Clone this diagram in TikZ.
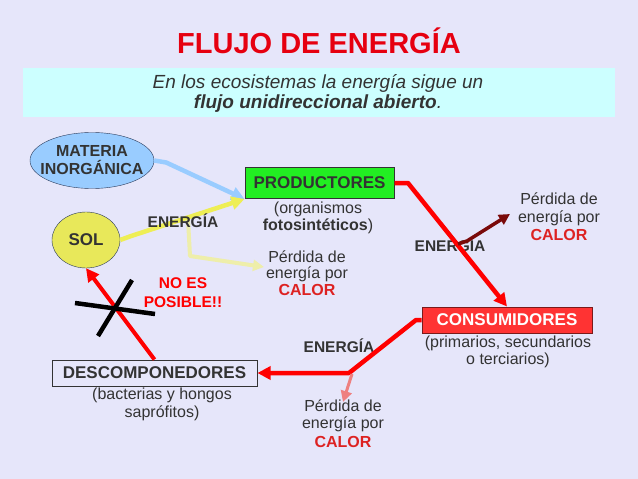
\documentclass[tikz,border=0pt]{standalone}
\usepackage{fontspec}
\setmainfont{Liberation Sans}
\usetikzlibrary{arrows.meta,shapes.geometric}
\definecolor{bg}{HTML}{E6E6FA}
\definecolor{band}{HTML}{CCFFFF}
\definecolor{titlered}{HTML}{E60010}
\definecolor{txt}{HTML}{333333}
\definecolor{calor}{HTML}{DD2222}
\definecolor{matfill}{HTML}{99CCFF}
\definecolor{matline}{HTML}{2A3A5A}
\definecolor{solfill}{HTML}{E8E85A}
\definecolor{prodfill}{HTML}{22EE22}
\definecolor{consfill}{HTML}{FF3333}
\definecolor{consline}{HTML}{7A1A1A}
\definecolor{arrblue}{HTML}{99CCFF}
\definecolor{arryellow}{HTML}{EEEE55}
\definecolor{arrpale}{HTML}{EEEEAA}
\definecolor{arrred}{HTML}{FF0000}
\definecolor{arrmaroon}{HTML}{7A0A0A}
\definecolor{arrpink}{HTML}{EE8080}
\tikzset{
  bigtxt/.style={font=\bfseries\fontsize{17}{20}\selectfont, text=txt},
  midtxt/.style={font=\bfseries\fontsize{15.5}{18}\selectfont, text=txt},
  plaintxt/.style={font=\fontsize{16}{18}\selectfont, text=txt, anchor=base},
  calortxt/.style={font=\bfseries\fontsize{16}{18}\selectfont, text=calor, anchor=base},
  energia/.style={midtxt, anchor=base},
  flow/.style={line width=4.5pt, line join=round, -{Triangle[length=13pt,width=13pt]}},
  thinflow/.style={line width=3.5pt, line join=round, -{Triangle[length=11pt,width=11pt]}},
}
\begin{document}
\begin{tikzpicture}[x=1pt,y=-1pt]
\useasboundingbox[fill=bg] (0,0) rectangle (638,479);
\fill[band] (23,68) rectangle (615,117);

% title and subtitle
\node[font=\bfseries\fontsize{29}{30}\selectfont, text=titlered, anchor=base] (title) at (319,53) {FLUJO DE ENERGÍA};
\node[font=\itshape\fontsize{19}{20}\selectfont, text=txt, anchor=base] (sub1) at (318,88) {En los ecosistemas la energía sigue un};
\node[font=\itshape\fontsize{19}{20}\selectfont, text=txt, anchor=base] (sub2) at (318,108) {\textbf{flujo unidireccional abierto}.};

% main nodes
\node[ellipse, draw=matline, fill=matfill, minimum width=124pt, minimum height=56pt, inner xsep=-8pt, inner ysep=0pt, align=center, font=\bfseries\fontsize{16}{18}\selectfont, text=txt] (mat) at (92,160.5) {MATERIA\\INORGÁNICA};
\node[ellipse, draw=matline, fill=solfill, minimum width=68pt, minimum height=56pt, inner sep=0pt, bigtxt] (sol) at (86,240) {SOL};
\node[rectangle, draw=black!80, line width=1pt, fill=prodfill, minimum width=149pt, minimum height=31pt, inner sep=0pt, bigtxt] (prod) at (319.5,183) {PRODUCTORES};
\node[rectangle, draw=consline, line width=1pt, fill=consfill, minimum width=170pt, minimum height=26pt, inner sep=0pt, bigtxt, text=white] (cons) at (507,320) {CONSUMIDORES};
\node[rectangle, draw=black!80, line width=1pt, minimum width=205pt, minimum height=26pt, inner sep=0pt, bigtxt] (desc) at (154.5,373) {DESCOMPONEDORES};

% sub-labels
\node[plaintxt] (org1) at (318,213) {(organismos};
\node[plaintxt] (org2) at (318,230) {\textbf{fotosintéticos})};
\node[plaintxt] (cons1) at (508,347) {(primarios, secundarios};
\node[plaintxt] (cons2) at (508,364) {o terciarios)};
\node[plaintxt] (desc1) at (162,399) {(bacterias y hongos};
\node[plaintxt] (desc2) at (162,417) {saprófitos)};

% losses labels
\node[plaintxt] (pa1) at (307,262) {Pérdida de};
\node[plaintxt] (pa2) at (307,278) {energía por};
\node[calortxt] (pa3) at (307,295) {CALOR};
\node[plaintxt] (pb1) at (559,204) {Pérdida de};
\node[plaintxt] (pb2) at (559,222) {energía por};
\node[calortxt] (pb3) at (559,240) {CALOR};
\node[plaintxt] (pc1) at (343,411) {Pérdida de};
\node[plaintxt] (pc2) at (343,428) {energía por};
\node[calortxt] (pc3) at (343,447) {CALOR};

% energy labels under the lines
\node[energia] (en2) at (450,251) {ENERGÍA};
\node[energia] (en3) at (339,352) {ENERGÍA};
\node[midtxt, text=arrred, anchor=base] (no1) at (183,288) {NO ES};
\node[midtxt, text=arrred, anchor=base] (no2) at (183,307) {POSIBLE!!};

% branch points
\coordinate (ya) at (188,219);
\coordinate (pae) at (264,267);
\coordinate (ra) at (458,244);
\coordinate (rb) at (352,374);

% arrows
\draw[flow, arrblue] (mat.east) -- ++(12,2) -- (prod.south west);
\draw[thinflow, arrpale, line width=4pt] (ya) -- (190,256) -- (pae);
\draw[flow, arryellow] (sol.east) -- ++(11,-4) -- (prod.south west);
\draw[flow, arrred] (prod.east) -- (408,183) -- (cons.north);
\draw[thinflow, arrmaroon] (ra) -- (467,241) -- (510,214);
\draw[flow, arrred] (cons.west) -- (416,320) -- (349,373) -- (desc.east);
\draw[thinflow, arrpink, line width=3pt] (rb) -- (343,402);
\draw[flow, arrred, line width=4pt] (desc.north) -- (sol.south);

% label above the yellow line
\node[energia] (en1) at (183,227) {ENERGÍA};

% cross
\coordinate (xa) at (75,303);
\coordinate (xb) at (155,314);
\coordinate (xc) at (132,280);
\coordinate (xd) at (98,336);
\draw[line width=4.5pt] (xa) -- (xb);
\draw[line width=4.5pt] (xc) -- (xd);
\end{tikzpicture}
\end{document}
